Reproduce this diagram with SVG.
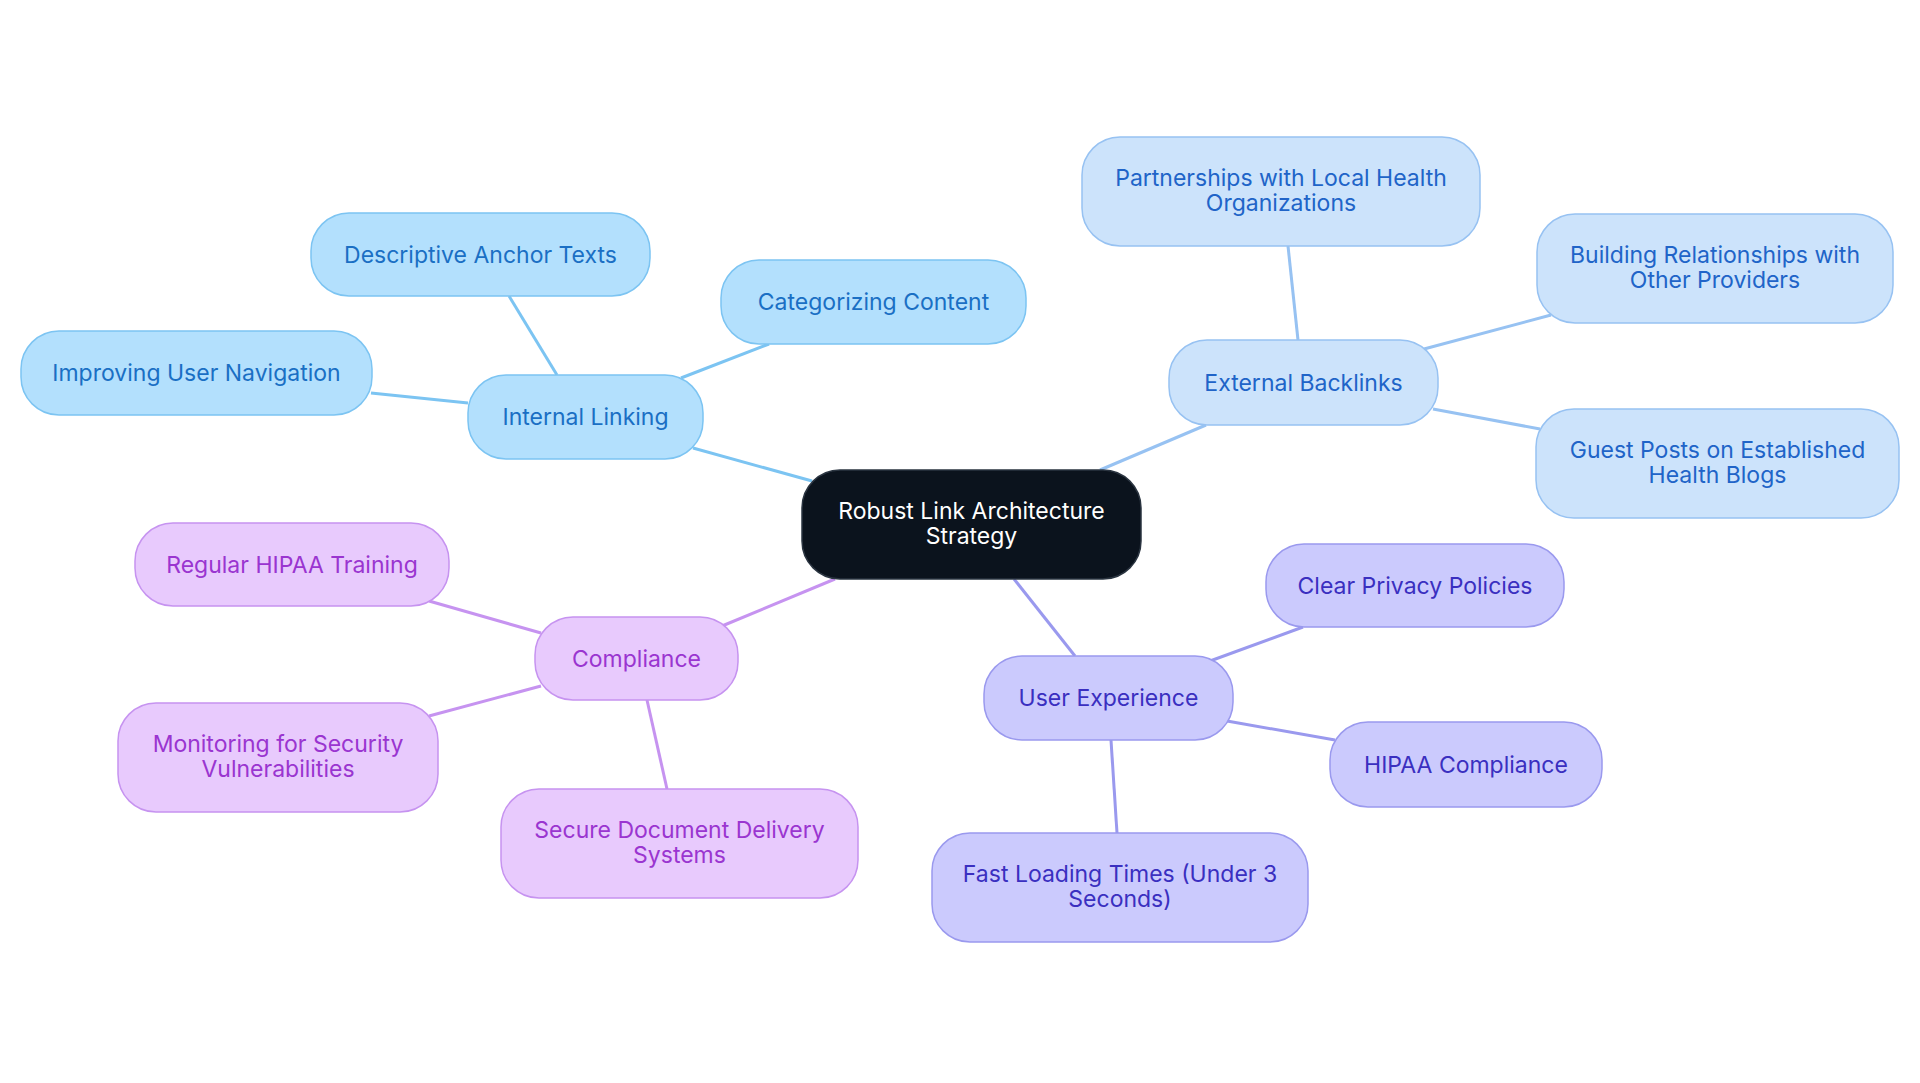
<svg xmlns="http://www.w3.org/2000/svg" width="1920" height="1083" viewBox="0 0 1920 1083">
<style>
text{font-family:Inter,"Noto Sans",sans-serif;font-size:23px;text-anchor:middle;dominant-baseline:central}
rect{stroke-width:1.5}
.b rect{fill:#b3e0fd;stroke:#7cc4f2}.b text{fill:#1a6fc4}
.l rect{fill:#cce3fb;stroke:#97c2f2}.l text{fill:#2064c8}
.p rect{fill:#cbcafd;stroke:#9a99ee}.p text{fill:#3a2fc0}
.v rect{fill:#e8cafd;stroke:#c693f0}.v text{fill:#9a35d0}
#edges line{stroke-width:3}
</style>
<rect width="1920" height="1083" fill="#fff"/>
<g id="edges">
<g stroke="#7cc4f2"><line x1="812" y1="481" x2="693" y2="448"/><line x1="557" y1="375" x2="509" y2="296"/><line x1="681" y1="378" x2="769" y2="344"/><line x1="468" y1="403" x2="371" y2="393"/></g>
<g stroke="#97c2f2"><line x1="1100" y1="470" x2="1206" y2="425"/><line x1="1298" y1="340" x2="1288" y2="246"/><line x1="1424" y1="349" x2="1551" y2="315"/><line x1="1433" y1="409" x2="1540" y2="429"/></g>
<g stroke="#c693f0"><line x1="835" y1="579" x2="722" y2="626"/><line x1="541" y1="633" x2="429" y2="601"/><line x1="541" y1="686" x2="429" y2="716"/><line x1="647" y1="700" x2="667" y2="789"/></g>
<g stroke="#9a99ee"><line x1="1014" y1="579" x2="1075" y2="656"/><line x1="1210" y1="661" x2="1303" y2="627"/><line x1="1227" y1="721" x2="1335" y2="740"/><line x1="1111" y1="740" x2="1117" y2="833"/></g>
</g>
<g id="center"><rect x="802" y="470" width="339" height="109" rx="38" fill="#0b131d" stroke="#2a3440"/><text x="971.5" y="511" fill="#fff">Robust Link Architecture</text><text x="971.5" y="536" fill="#fff">Strategy</text></g>
<g id="internal" class="b"><rect x="468" y="375" width="235" height="84" rx="38"/><text x="585.5" y="417">Internal Linking</text></g>
<g id="desc" class="b"><rect x="311" y="213" width="339" height="83" rx="38"/><text x="480.5" y="254.5">Descriptive Anchor Texts</text></g>
<g id="cat" class="b"><rect x="721" y="260" width="305" height="84" rx="38"/><text x="873.5" y="302">Categorizing Content</text></g>
<g id="improv" class="b"><rect x="21" y="331" width="351" height="84" rx="38"/><text x="196.5" y="373">Improving User Navigation</text></g>
<g id="external" class="l"><rect x="1169" y="340" width="269" height="85" rx="38"/><text x="1303.5" y="382.5">External Backlinks</text></g>
<g id="partner" class="l"><rect x="1082" y="137" width="398" height="109" rx="38"/><text x="1281" y="178">Partnerships with Local Health</text><text x="1281" y="203">Organizations</text></g>
<g id="building" class="l"><rect x="1537" y="214" width="356" height="109" rx="38"/><text x="1715" y="255">Building Relationships with</text><text x="1715" y="280">Other Providers</text></g>
<g id="guest" class="l"><rect x="1536" y="409" width="363" height="109" rx="38"/><text x="1717.5" y="450">Guest Posts on Established</text><text x="1717.5" y="475">Health Blogs</text></g>
<g id="compliance" class="v"><rect x="535" y="617" width="203" height="83" rx="38"/><text x="636.5" y="658.5">Compliance</text></g>
<g id="regular" class="v"><rect x="135" y="523" width="314" height="83" rx="38"/><text x="292" y="564.5">Regular HIPAA Training</text></g>
<g id="monitor" class="v"><rect x="118" y="703" width="320" height="109" rx="38"/><text x="278" y="744">Monitoring for Security</text><text x="278" y="769">Vulnerabilities</text></g>
<g id="secure" class="v"><rect x="501" y="789" width="357" height="109" rx="38"/><text x="679.5" y="830">Secure Document Delivery</text><text x="679.5" y="855">Systems</text></g>
<g id="ux" class="p"><rect x="984" y="656" width="249" height="84" rx="38"/><text x="1108.5" y="698">User Experience</text></g>
<g id="privacy" class="p"><rect x="1266" y="544" width="298" height="83" rx="38"/><text x="1415" y="585.5">Clear Privacy Policies</text></g>
<g id="hipaa" class="p"><rect x="1330" y="722" width="272" height="85" rx="38"/><text x="1466" y="764.5">HIPAA Compliance</text></g>
<g id="fast" class="p"><rect x="932" y="833" width="376" height="109" rx="38"/><text x="1120" y="874">Fast Loading Times (Under 3</text><text x="1120" y="899">Seconds)</text></g>
</svg>
